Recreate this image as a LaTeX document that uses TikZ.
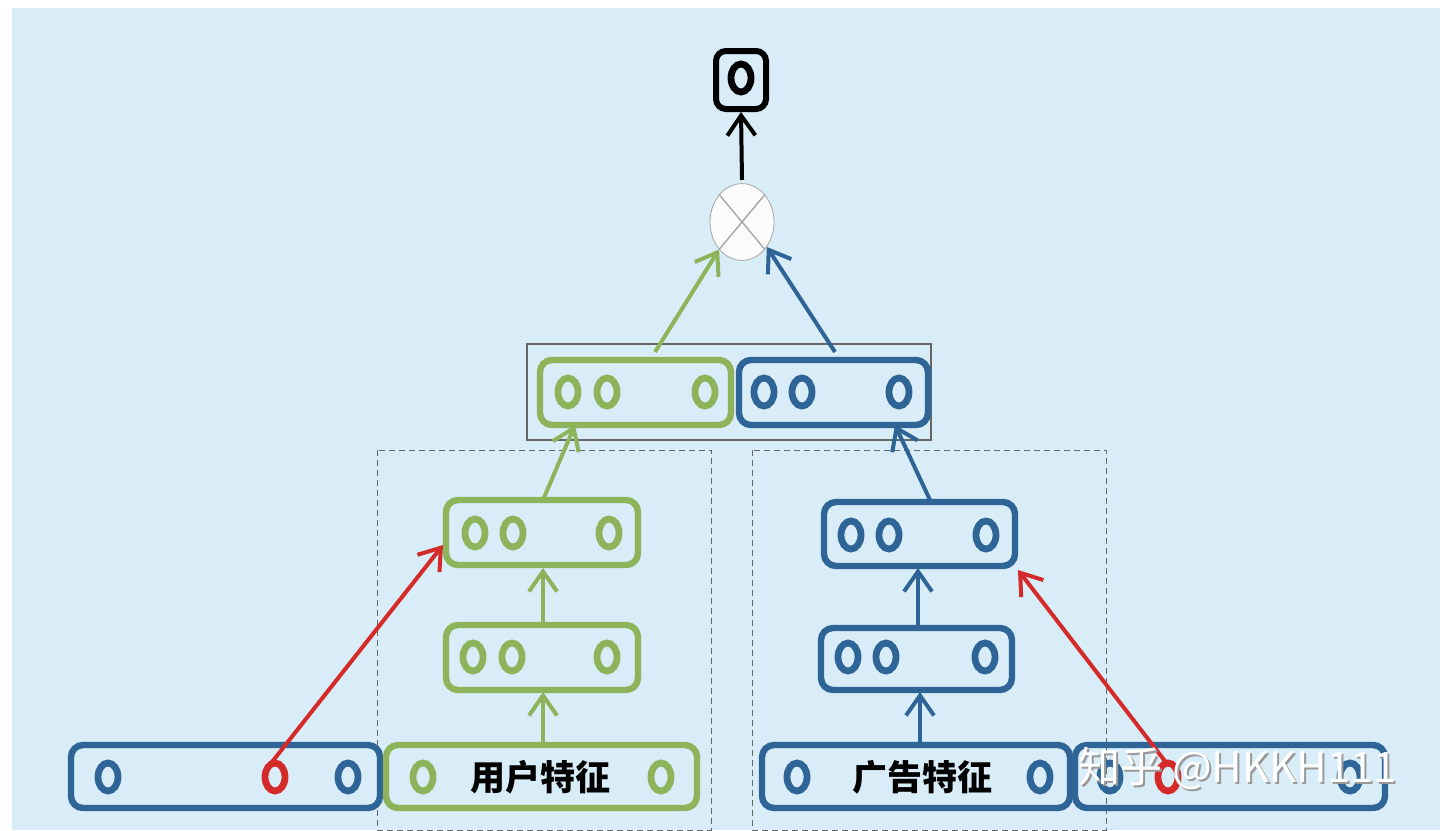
\documentclass[tikz,border=0pt]{standalone}
\usepackage{fontspec}
\newfontfamily\cjk{Noto Sans CJK SC}
\usetikzlibrary{arrows.meta}
\definecolor{bg}{HTML}{D8EDF8}
\definecolor{gr}{HTML}{8DB45A}
\definecolor{bl}{HTML}{2E6496}
\definecolor{rd}{HTML}{D42A2A}
\begin{document}
\begin{tikzpicture}[x=0.5pt,y=-0.5pt,
  vec/.style={draw=#1,line width=3.2pt,rounded corners=6pt,fill=none},
  arr/.style={draw=#1,line width=2pt,-{Straight Barb[length=10pt,width=14pt,line width=2pt]}},
  dbox/.style={draw=black!60,densely dashed,line width=0.5pt}]
\useasboundingbox (0,0) rectangle (1440,830);
\fill[white] (0,0) rectangle (1440,830);
\fill[bg] (12,8) rectangle (1440,830);
\newcommand\rg[3]{\draw[#1,line width=3.4pt] (#2,#3) ellipse [x radius=5pt,y radius=7pt];}
% output
\node[draw=black,line width=3pt,rounded corners=5pt,minimum width=25pt,minimum height=29pt] (out) at (741,80) {};
\rg{black}{741}{78}
\node[circle,draw=gray!70,fill=white!97!gray,minimum width=32pt,inner sep=0pt,yscale=1.2] (mul) at (742,222) {};
\draw[gray!70,line width=0.7pt] (mul.north west)--(mul.south east) (mul.north east)--(mul.south west);
\draw[arr=black] (742,180) -- (out.south);
% concat
\draw[black!60,line width=0.7pt] (527,344) rectangle (931,440);
\draw[vec=gr] (540,360) rectangle (731,425); \rg{gr}{568}{392}\rg{gr}{607}{392}\rg{gr}{705}{392}
\draw[vec=bl] (739,360) rectangle (928,425); \rg{bl}{764}{392}\rg{bl}{802}{392}\rg{bl}{899}{392}
\coordinate (cg) at (655,352); \coordinate (cb) at (835,352);
\draw[arr=gr] (cg) -- (mul.225);
\draw[arr=bl] (cb) -- (mul.-40);
% dashed towers
\draw[dbox] (377,450) rectangle (711,830);
\draw[dbox] (752,450) rectangle (1106,830);
% towers
\draw[vec=gr] (446,500) rectangle (638,565); \rg{gr}{475}{533}\rg{gr}{513}{533}\rg{gr}{609}{533}
\draw[vec=gr] (446,625) rectangle (638,690); \rg{gr}{473}{657}\rg{gr}{512}{657}\rg{gr}{607}{657}
\draw[vec=bl] (824,502) rectangle (1015,566); \rg{bl}{851}{535}\rg{bl}{889}{535}\rg{bl}{986}{535}
\draw[vec=bl] (821,628) rectangle (1012,690); \rg{bl}{848}{657}\rg{bl}{886}{657}\rg{bl}{985}{657}
% bottom
\draw[vec=bl] (71,745) rectangle (380,808); \rg{bl}{108}{777}\rg{rd}{275}{777}\rg{bl}{348}{777}
\draw[vec=gr] (386,745) rectangle (697,808); \rg{gr}{423}{777}\rg{gr}{661}{777}
\node[font=\cjk\bfseries,scale=1.75] (ut) at (540,777) {用户特征};
\draw[vec=bl] (762,745) rectangle (1070,808); \rg{bl}{797}{777}\rg{bl}{1040}{777}
\node[font=\cjk\bfseries,scale=1.75] (at) at (922,777) {广告特征};
\draw[vec=bl] (1075,745) rectangle (1385,808); \rg{bl}{1110}{777}\rg{rd}{1168}{777}\rg{bl}{1350}{777}
% arrows
\draw[arr=gr] (543,745) -- (543,692);
\draw[arr=gr] (543,625) -- (543,568);
\draw[arr=gr] (543,500) -- (575,425);
\draw[arr=bl] (920,745) -- (920,692);
\draw[arr=bl] (918,628) -- (918,568);
\draw[arr=bl] (930,500) -- (895,425);
\draw[arr=rd] (272,762) -- (443,545);
\draw[arr=rd] (1168,765) -- (1018,570);
% watermark
\node[font=\cjk,scale=2.1,text=black!40] at (1240,770) {知乎 @HKKH111};
\node[font=\cjk,scale=2.1,text=white] (wm) at (1238,768) {知乎 @HKKH111};
\end{tikzpicture}
\end{document}
